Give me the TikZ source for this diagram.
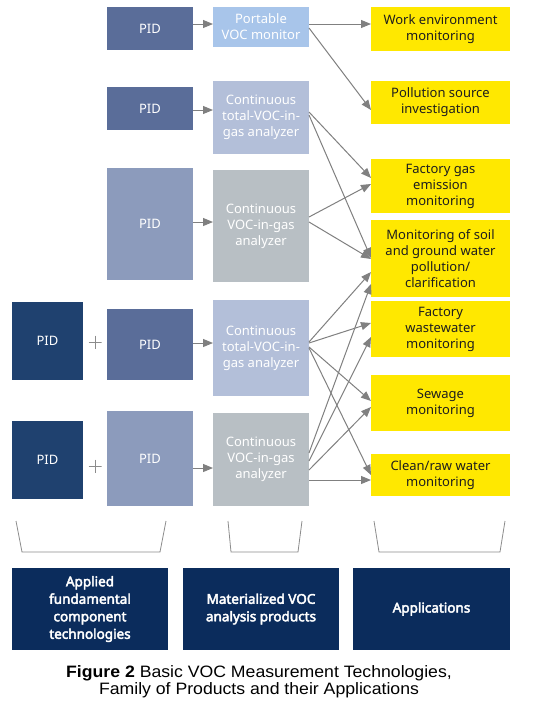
\documentclass[tikz,border=0pt]{standalone}
\usepackage{fontspec}
\setmainfont{Noto Sans}
\newfontfamily\botfont{Noto Sans}[FakeBold=3.2]
\newfontfamily\capfont{Liberation Sans}[FakeStretch=1.07]
\usetikzlibrary{arrows.meta}
\definecolor{pidA}{HTML}{5A6D99}
\definecolor{pidB}{HTML}{8C9BBC}
\definecolor{pidD}{HTML}{1F416F}
\definecolor{portC}{HTML}{A8C5EA}
\definecolor{totC}{HTML}{B3BFD9}
\definecolor{vocC}{HTML}{B8BFC4}
\definecolor{appY}{HTML}{FFE800}
\definecolor{navyC}{HTML}{0B2C5C}
\definecolor{arrC}{HTML}{808080}
\definecolor{brC}{HTML}{8C8C8C}
\definecolor{ytext}{HTML}{1E1E1E}
\newcommand\fsbox{\fontsize{13}{16}\selectfont}
\newcommand\fsbot{\botfont\fontsize{13.5}{17.5}\selectfont}
\newcommand\bx[7]{\node[#1, anchor=north west, minimum width=#5pt-#3pt, minimum height=#6pt-#4pt] (#2) at (#3,#4) {#7};}
\newcommand\ar[4]{\draw[arr] ([yshift=-#2pt]#1.north east) -- ([yshift=-#4pt]#3.north west);}
\begin{document}
\begin{tikzpicture}[x=1pt,y=-1pt,
  box/.style={inner sep=0pt, outer sep=0pt, align=center, font=\fsbox, text=white},
  pida/.style={box, fill=pidA},
  pidb/.style={box, fill=pidB},
  pidd/.style={box, fill=pidD},
  port/.style={box, fill=portC},
  tot/.style={box, fill=totC},
  voc/.style={box, fill=vocC},
  app/.style={box, fill=appY, text=ytext},
  bot/.style={inner sep=0pt, outer sep=0pt, align=center, font=\fsbot, text=white, fill=navyC},
  arr/.style={draw=arrC, line width=1pt, -{Triangle[length=10pt,width=8pt]}},
  brk/.style={draw=brC, line width=0.8pt},
  plussign/.style={minimum size=13pt, inner sep=0pt, path picture={\draw[brC, line width=0.7pt] (path picture bounding box.north) -- (path picture bounding box.south) (path picture bounding box.west) -- (path picture bounding box.east);}}]
\useasboundingbox[fill=white] (0,0) rectangle (540,710);
% component technologies
\bx{pida}{pid1}{107}{7}{193}{50}{PID}
\bx{pida}{pid2}{107}{87}{193}{130}{PID}
\bx{pidb}{pid3}{107}{168}{193}{280}{PID}
\bx{pidd}{d4}{12}{302}{83}{380}{PID}
\bx{pida}{pid5}{107}{309}{193}{380}{PID}
\bx{pidd}{d6}{12}{421}{83}{499}{PID}
\bx{pidb}{pid7}{107}{411}{193}{506}{PID}
\node[plussign] (plus4) at (95,342) {};
\node[plussign] (plus6) at (95,466) {};
% products
\bx{port}{port}{213}{7}{309}{47}{Portable\\VOC monitor}
\bx{tot}{ct1}{213}{81}{309}{154}{Continuous\\total-VOC-in-\\gas analyzer}
\bx{voc}{cv1}{213}{170}{309}{282}{Continuous\\VOC-in-gas\\analyzer}
\bx{tot}{ct2}{213}{300}{309}{396}{Continuous\\total-VOC-in-\\gas analyzer}
\bx{voc}{cv2}{213}{413}{309}{506}{Continuous\\VOC-in-gas\\analyzer}
% applications
\bx{app}{work}{371}{7}{510}{51}{Work environment\\monitoring}
\bx{app}{poll}{371}{81}{510}{124}{Pollution source\\investigation}
\bx{app}{fgas}{371}{159}{510}{213}{Factory gas\\emission\\monitoring}
\bx{app}{soil}{371}{220}{510}{297}{Monitoring of soil\\and ground water\\pollution/\\clarification}
\bx{app}{waste}{371}{301}{510}{357}{Factory\\wastewater\\monitoring}
\bx{app}{sew}{371}{375}{510}{431}{Sewage\\monitoring}
\bx{app}{clean}{371}{454}{510}{496}{Clean/raw water\\monitoring}
% PID -> product
\ar{pid1}{17}{port}{17}
\ar{pid2}{23}{ct1}{29}
\ar{pid3}{54}{cv1}{52}
\ar{pid5}{34}{ct2}{43}
\ar{pid7}{57}{cv2}{55}
% product -> application
\ar{port}{17}{work}{17}
\ar{port}{21}{poll}{29}
\ar{ct1}{31}{fgas}{19}
\ar{ct1}{34}{soil}{38}
\ar{cv1}{47}{fgas}{25}
\ar{cv1}{52}{soil}{39}
\ar{ct2}{42}{soil}{52}
\ar{ct2}{43}{waste}{22}
\ar{ct2}{47}{sew}{26}
\ar{ct2}{48}{clean}{21}
\ar{cv2}{40}{soil}{64}
\ar{cv2}{48}{waste}{36}
\ar{cv2}{57}{sew}{32}
\ar{cv2}{67}{clean}{26}
% brackets
\draw[brk] (16,521) -- (22,552) -- (160,552) -- (166,521);
\draw[brk] (228,521) -- (231,552) -- (298,552) -- (302,521);
\draw[brk] (374,521) -- (379,552) -- (500,552) -- (505,521);
% bottom labels
\bx{bot}{lab1}{12}{568}{168}{650}{Applied\\fundamental\\component\\technologies}
\bx{bot}{lab2}{183}{568}{339}{650}{Materialized VOC\\analysis products}
\bx{bot}{lab3}{353}{568}{510}{650}{Applications}
% caption
\node[inner sep=0pt, align=center, font={\capfont\fontsize{16.5}{15}\selectfont}] (cap) at (259,681.5)
  {\textbf{Figure 2} Basic VOC Measurement Technologies,\\Family of Products and their Applications};
\end{tikzpicture}
\end{document}
